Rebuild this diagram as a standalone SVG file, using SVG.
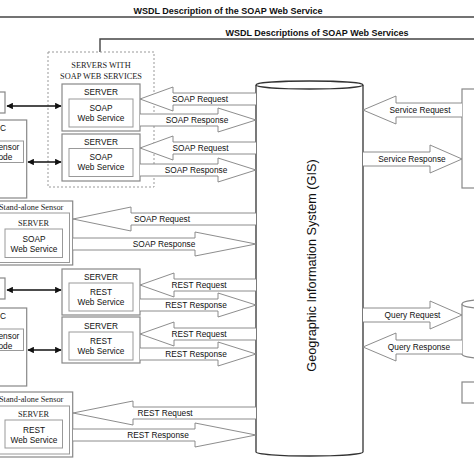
<svg xmlns="http://www.w3.org/2000/svg" width="474" height="474" viewBox="0 0 474 474">
<defs>
<style>
.t{font-family:"Liberation Sans",Arial,sans-serif;font-size:8.3px;fill:#111;text-anchor:middle}
.tb{font-family:"Liberation Sans",Arial,sans-serif;font-size:9px;font-weight:bold;fill:#111;text-anchor:middle}
.s{font-family:"Liberation Serif","Times New Roman",serif;font-size:8.3px;fill:#222;text-anchor:middle}
.box{fill:#fff;stroke:#888;stroke-width:1.2}
.ibox{fill:#fff;stroke:#999;stroke-width:1}
.blk{fill:#fff;stroke:#808080;stroke-width:0.9}
.dbl{stroke:#111;stroke-width:1.3;fill:none;marker-start:url(#ah);marker-end:url(#ah)}
.ln{stroke:#444;stroke-width:1.4;fill:none}
</style>
<marker id="ah" viewBox="0 0 10 10" refX="9" refY="5" markerWidth="6.5" markerHeight="6.5" markerUnits="userSpaceOnUse" orient="auto-start-reverse">
<path d="M0,0 L10,5 L0,10 Z" fill="#111"/>
</marker>
</defs>
<rect width="474" height="474" fill="#fff"/>

<g id="titles">
<text class="tb" x="228" y="14">WSDL Description of the SOAP Web Service</text>
<line class="ln" x1="0" y1="17" x2="474" y2="17"/>
<text class="tb" x="317" y="35.5">WSDL Descriptions of SOAP Web Services</text>
<polyline class="ln" points="474,39 100,39 100,52"/>
</g>

<g id="soap-group">
<rect x="48" y="52" width="106" height="135" fill="none" stroke="#999" stroke-width="1" stroke-dasharray="2,2"/>
<text class="s" x="101" y="68">SERVERS WITH</text>
<text class="s" x="101" y="78.5">SOAP WEB SERVICES</text>
</g>

<g id="soap-server-1">
<rect class="box" x="62" y="84" width="78" height="47"/>
<text class="t" x="101" y="95">SERVER</text>
<rect class="ibox" x="69" y="99" width="64" height="28"/>
<text class="t" x="101" y="111">SOAP</text>
<text class="t" x="101" y="121">Web Service</text>
</g>

<g id="soap-server-2">
<rect class="box" x="62" y="134" width="78" height="47"/>
<text class="t" x="101" y="145">SERVER</text>
<rect class="ibox" x="69" y="148.5" width="64" height="28"/>
<text class="t" x="101" y="160">SOAP</text>
<text class="t" x="101" y="170">Web Service</text>
</g>

<g id="left-box-1">
<rect class="box" x="-2" y="92" width="7" height="21"/>
</g>

<g id="sensor-node-1">
<rect class="box" x="-2" y="120" width="28.7" height="78"/>
<text class="t" x="0" y="131" style="text-anchor:start">C</text>
<rect class="ibox" x="-2" y="141" width="25.5" height="21.5"/>
<text class="t" x="-1.5" y="150" style="text-anchor:start">ensor</text>
<text class="t" x="-1.5" y="160" style="text-anchor:start">ode</text>
</g>

<g id="standalone-soap">
<rect class="box" x="-2" y="201" width="74.7" height="64"/>
<text class="s" x="-1" y="210" style="text-anchor:start">Stand-alone Sensor</text>
<rect class="ibox" x="-2" y="213" width="71.5" height="49.5"/>
<text class="s" x="33.5" y="226">SERVER</text>
<rect class="ibox" x="5" y="229" width="57.5" height="28.5"/>
<text class="t" x="34" y="242">SOAP</text>
<text class="t" x="34" y="252">Web Service</text>
</g>

<g id="rest-server-1">
<rect class="box" x="62" y="269" width="78" height="46"/>
<text class="t" x="101" y="280">SERVER</text>
<rect class="ibox" x="69" y="283" width="64" height="28"/>
<text class="t" x="101" y="295">REST</text>
<text class="t" x="101" y="305">Web Service</text>
</g>

<g id="rest-server-2">
<rect class="box" x="62" y="317" width="78" height="46"/>
<text class="t" x="101" y="328.5">SERVER</text>
<rect class="ibox" x="69" y="332" width="64" height="28"/>
<text class="t" x="101" y="344">REST</text>
<text class="t" x="101" y="354">Web Service</text>
</g>

<g id="left-box-2">
<rect class="box" x="-2" y="278" width="7" height="21"/>
</g>

<g id="sensor-node-2">
<rect class="box" x="-2" y="308" width="28.7" height="78"/>
<text class="t" x="0" y="319" style="text-anchor:start">C</text>
<rect class="ibox" x="-2" y="329" width="25.5" height="21.5"/>
<text class="t" x="-1.5" y="339" style="text-anchor:start">ensor</text>
<text class="t" x="-1.5" y="349" style="text-anchor:start">ode</text>
</g>

<g id="standalone-rest">
<rect class="box" x="-2" y="392" width="74.7" height="65"/>
<text class="s" x="-1" y="402" style="text-anchor:start">Stand-alone Sensor</text>
<rect class="ibox" x="-2" y="406" width="71.5" height="48"/>
<text class="s" x="33.5" y="416.5">SERVER</text>
<rect class="ibox" x="5" y="420" width="57.5" height="28"/>
<text class="t" x="34" y="433">REST</text>
<text class="t" x="34" y="443">Web Service</text>
</g>

<g id="gis">
<path d="M256,85 L256,452 A53.5,4 0 0 0 363,452 L363,85" fill="#fff" stroke="#333" stroke-width="1.3"/>
<ellipse cx="309.5" cy="85" rx="53.5" ry="4" fill="#fff" stroke="#333" stroke-width="1.3"/>
<text transform="translate(316,265.5) rotate(-90)" style="font-family:'Liberation Sans',Arial,sans-serif;font-size:12.7px;fill:#111;text-anchor:middle">Geographic Information System (GIS)</text>
</g>

<g id="right-box-1">
<rect class="box" x="462" y="89" width="16" height="99"/>
</g>
<g id="right-db">
<path d="M462,304 L462,354 A18,4 0 0 0 498,354 L498,304" fill="#fff" stroke="#888" stroke-width="1.2"/>
<ellipse cx="480" cy="304" rx="18" ry="4" fill="#fff" stroke="#888" stroke-width="1.2"/>
</g>
<g id="right-box-2">
<rect class="box" x="462" y="382" width="16" height="21"/>
</g>

<g id="connectors">
<line class="dbl" x1="7" y1="106" x2="61" y2="106"/>
<line class="dbl" x1="28" y1="162" x2="61" y2="162"/>
<line class="dbl" x1="7" y1="290" x2="61" y2="290"/>
<line class="dbl" x1="28" y1="350" x2="61" y2="350"/>

<path class="blk" d="M256,93 L173,93 L173,87 L140,99 L173,111 L173,105 L256,105"/>
<path class="blk" d="M140,114 L218,114 L218,108 L256,120 L218,132 L218,126 L140,126"/>
<path class="blk" d="M256,142 L173,142 L173,136 L140,148 L173,160 L173,154 L256,154"/>
<path class="blk" d="M140,164 L218,164 L218,158 L256,170 L218,182 L218,176 L140,176"/>
<path class="blk" d="M256,213 L131,213 L131,207 L73,219 L131,231 L131,225 L256,225"/>
<path class="blk" d="M73,238 L195,238 L195,232 L256,244 L195,256 L195,250 L73,250"/>
<path class="blk" d="M256,279 L174,279 L174,273 L140,285 L174,297 L174,291 L256,291"/>
<path class="blk" d="M140,299 L218,299 L218,293 L256,305 L218,317 L218,311 L140,311"/>
<path class="blk" d="M256,328 L174,328 L174,322 L140,334 L174,346 L174,340 L256,340"/>
<path class="blk" d="M140,348 L218,348 L218,342 L256,354 L218,366 L218,360 L140,360"/>
<path class="blk" d="M256,407 L133,407 L133,401 L73,413 L133,425 L133,419 L256,419"/>
<path class="blk" d="M73,429 L195,429 L195,423 L256,435 L195,447 L195,441 L73,441"/>

<path class="blk" d="M462,103 L396,103 L396,96 L363,110 L396,124 L396,117 L462,117"/>
<path class="blk" d="M363,152 L430,152 L430,145 L462,159 L430,173 L430,166 L363,166"/>
<path class="blk" d="M363,308 L430,308 L430,301 L462,315 L430,329 L430,322 L363,322"/>
<path class="blk" d="M462,340 L396,340 L396,333 L363,347 L396,361 L396,354 L462,354"/>

<text class="t" x="200" y="101.5">SOAP Request</text>
<text class="t" x="197" y="123">SOAP Response</text>
<text class="t" x="200.5" y="151">SOAP Request</text>
<text class="t" x="196" y="173">SOAP Response</text>
<text class="t" x="162" y="221.5">SOAP Request</text>
<text class="t" x="164" y="247">SOAP Response</text>
<text class="t" x="199" y="288">REST Request</text>
<text class="t" x="196" y="308">REST Response</text>
<text class="t" x="199" y="337">REST Request</text>
<text class="t" x="196" y="357">REST Response</text>
<text class="t" x="165" y="416">REST Request</text>
<text class="t" x="158" y="438">REST Response</text>
<text class="t" x="420" y="113">Service Request</text>
<text class="t" x="412" y="162">Service Response</text>
<text class="t" x="412.5" y="318">Query Request</text>
<text class="t" x="419" y="350">Query Response</text>
</g>
</svg>
